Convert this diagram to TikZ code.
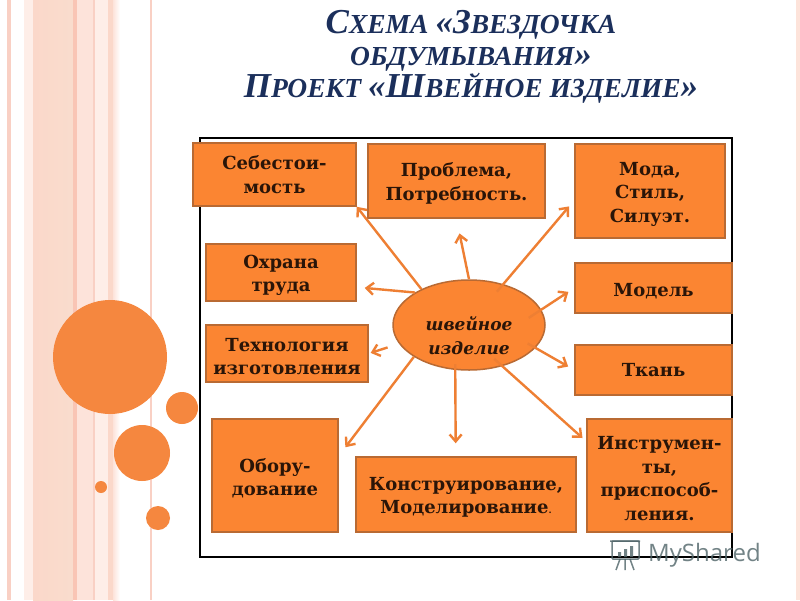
\documentclass[tikz,border=0pt]{standalone}
\usepackage{fontspec}
\usepackage{xcolor}
\setmainfont{DejaVu Serif}
\newfontfamily\titlefont{Liberation Serif}
\newfontfamily\markfont{Open Sans}
\usetikzlibrary{shapes, arrows.meta, positioning, calc}
\definecolor{boxfill}{HTML}{FB8532}
\definecolor{boxedge}{HTML}{B96A33}
\definecolor{dotfill}{HTML}{F5873F}
\definecolor{arrowcol}{HTML}{EE7F33}
\definecolor{inkcol}{HTML}{2A1508}
\definecolor{titlecol}{HTML}{1B2F5B}
\definecolor{peachA}{HTML}{F9D0C4}
\definecolor{peachB}{HTML}{FEEEE8}
\definecolor{peachC}{HTML}{FBD8CA}
\definecolor{peachD}{HTML}{F9DCCD}
\definecolor{peachE}{HTML}{F9C5B5}
\definecolor{peachF}{HTML}{FDE3DA}
\definecolor{markcol}{HTML}{4F6468}
\newcommand{\capL}[1]{{\fontsize{35}{32}\selectfont #1}}
\newcommand{\capS}[1]{{\fontsize{27.5}{32}\selectfont #1}}
\newcommand{\lift}{\rule{0pt}{19pt}}
\tikzset{
    topic/.style={draw=boxedge, fill=boxfill, line width=1.5pt, inner sep=0pt, align=center,
        text=inkcol, font=\fontsize{18}{23.5}\selectfont\bfseries},
    spoke/.style={draw=arrowcol, line width=2.4pt, ->, >={Straight Barb[length=7pt,width=12pt]}}
}
\begin{document}
\begin{tikzpicture}[x=1pt,y=-1pt]
    \useasboundingbox (0,0) rectangle (800,600);

    % stripes on the left
    \fill[white] (0,0) rectangle (800,600);
    \fill[peachA] (7,0) rectangle (11,600);
    \fill[peachB] (24,0) rectangle (33,600);
    \fill[left color=peachC, right color=peachD] (33,0) rectangle (73,600);
    \fill[peachE] (73,0) rectangle (77,600);
    \fill[peachF] (77,0) rectangle (93,600);
    \fill[peachA] (93,0) rectangle (95,600);
    \fill[peachB] (95,0) rectangle (108,600);
    \fill[peachC] (108,0) rectangle (113,600);
    \fill[left color=peachF, right color=white] (113,0) rectangle (120,600);
    \fill[peachA] (150,0) rectangle (152,600);
    \fill[peachF] (796,0) rectangle (800,600);

    % circles
    \fill[dotfill] (110,357) circle (57);
    \fill[dotfill] (182,408) circle (16);
    \fill[dotfill] (142,453) circle (28);
    \fill[dotfill] (101,487) circle (6);
    \fill[dotfill] (158,518) circle (12);

    % title
    \node[align=center, text=titlecol, font=\titlefont\bfseries\itshape\fontsize{28}{32}\selectfont] (title) at (471,57)
        {\capL{С}\capS{ХЕМА} \capL{«З}\capS{ВЕЗДОЧКА}\\
         \capS{ОБДУМЫВАНИЯ}\capL{»}\\
         \capL{П}\capS{РОЕКТ} \capL{«Ш}\capS{ВЕЙНОЕ ИЗДЕЛИЕ}\capL{»}};

    \draw[black, line width=2pt] (200,138) rectangle (732,557);

    \node[topic, minimum width=163pt, minimum height=63pt] (cost) at (274.5,174.5) {Себестои-\\мость};
    \node[topic, minimum width=177pt, minimum height=74pt] (problem) at (456.5,181) {\lift Проблема,\\Потребность.};
    \node[topic, minimum width=150pt, minimum height=94pt] (fashion) at (650,191) {\lift Мода,\\Стиль,\\Силуэт.};
    \node[topic, minimum width=150pt, minimum height=57pt] (safety) at (281,272.5) {\lift Охрана\\труда};
    \node[topic, minimum width=157pt, minimum height=50pt] (model) at (653.5,288) {\lift Модель};
    \node[topic, minimum width=162pt, minimum height=57pt] (tech) at (287,353.5) {\lift Технология\\изготовления};
    \node[topic, minimum width=157pt, minimum height=50pt] (fabric) at (653.5,370) {Ткань};
    \node[topic, minimum width=126pt, minimum height=113pt] (equip) at (275,475.5) {\lift Обору-\\дование};
    \node[topic, minimum width=220pt, minimum height=75pt] (design) at (466,494.5) {\lift Конструирование,\\Моделирование{\fontsize{9}{9}\selectfont.}};
    \node[topic, minimum width=145pt, minimum height=113pt] (tools) at (659.5,475.5) {\lift Инструмен-\\ты,\\приспособ-\\ления.};

    \node[ellipse, draw=boxedge, fill=boxfill, line width=1.5pt, inner sep=0pt, minimum width=152pt, minimum height=90pt] (star) at (469,325) {};
    \node[align=center, text=inkcol, inner sep=0pt, font=\fontsize{17}{24}\selectfont\bfseries\itshape] (starlabel) at (469,336) {швейное\\изделие};

    \draw[spoke] (star.143) -- (cost.south east);
    \draw[spoke, shorten >=15pt] (star.90) -- (problem.south);
    \draw[spoke, shorten <=-10pt, shorten >=8pt] (star.50.7) -- (fashion.187.6);
    \draw[spoke, shorten <=-15pt, shorten >=7pt] (star.12) -- (model.west);
    \draw[spoke, shorten <=-9pt, shorten >=7pt] (star.-19) -- (fabric.west);
    \draw[spoke, shorten <=-11pt, shorten >=5pt] (star.-51) -- (tools.155);
    \draw[spoke, shorten <=-6pt, shorten >=13pt] (star.253.6) -- (design.105);
    \draw[spoke, shorten >=11pt] (star.210) -- (equip.17);
    \draw[spoke, shorten <=12pt, shorten >=2pt] (star.195) -- (tech.east);
    \draw[spoke, shorten >=8pt] (star.149) -- (safety.-11);

    % watermark
    \node[anchor=west, inner sep=0pt, text=markcol, opacity=.8, font=\markfont\fontsize{24}{24}\selectfont] (mark) at (648,555) {MyShared};
    \draw[markcol, line width=1.5pt, opacity=.8, rounded corners=1pt] (612,541) rectangle (639,559);
    \draw[markcol, line width=1.5pt, opacity=.8] (610,541) -- (640,541) (620,559) -- (616,570) (625,559) -- (625,570) (630,559) -- (634,570);
    \fill[markcol, opacity=.8] (618,552) rectangle (621,557) (624,549) rectangle (627,557) (630,546) rectangle (633,557);
\end{tikzpicture}
\end{document}
